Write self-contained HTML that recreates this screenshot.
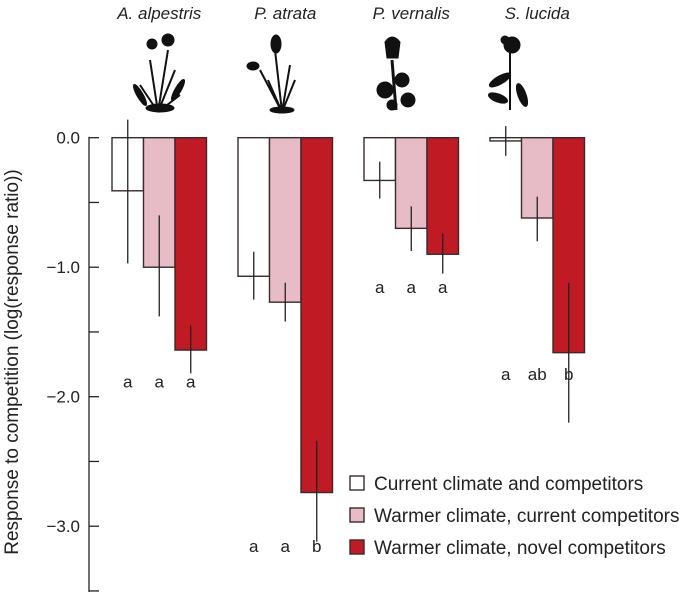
<!DOCTYPE html>
<html><head><meta charset="utf-8"><style>
body{margin:0;background:#fff}
svg{display:block;font-family:"Liberation Sans",Arial,sans-serif}
</style></head><body>
<svg id="chart" width="685" height="593" viewBox="0 0 685 593">
<g id="plants" fill="#111" stroke="#111">
  <g>
    <path d="M158 112 L150 60 M158 112 L168 50 M158 112 L175 70 M158 112 L140 85 M158 112 L180 95" stroke-width="2" fill="none"/>
    <circle cx="152" cy="44" r="5"/><circle cx="168" cy="40" r="6"/>
    <ellipse cx="140" cy="95" rx="3" ry="12" transform="rotate(-30 140 95)"/>
    <ellipse cx="178" cy="90" rx="3" ry="12" transform="rotate(30 178 90)"/>
    <ellipse cx="160" cy="108" rx="14" ry="4"/>
  </g>
  <g>
    <path d="M282 112 L275 50 M282 112 L260 70 M282 112 L290 65 M282 112 L268 80 M282 112 L295 80" stroke-width="2" fill="none"/>
    <ellipse cx="276" cy="44" rx="5" ry="9"/><ellipse cx="253" cy="66" rx="6" ry="4"/>
    <ellipse cx="282" cy="110" rx="12" ry="3"/>
  </g>
  <g>
    <path d="M396 110 L392 60" stroke-width="3" fill="none"/>
    <path d="M385 42 Q392 32 400 42 L398 58 L387 58 Z"/>
    <circle cx="385" cy="90" r="8"/><circle cx="402" cy="80" r="7"/><circle cx="408" cy="100" r="7"/><circle cx="392" cy="105" r="5"/>
  </g>
  <g>
    <path d="M510 110 L510 45" stroke-width="2" fill="none"/>
    <circle cx="512" cy="45" r="8"/><circle cx="505" cy="40" r="4"/>
    <ellipse cx="500" cy="80" rx="12" ry="4" transform="rotate(-30 500 80)"/>
    <ellipse cx="522" cy="95" rx="4" ry="12" transform="rotate(-20 522 95)"/>
    <ellipse cx="498" cy="98" rx="10" ry="4" transform="rotate(20 498 98)"/>
  </g>
</g>
<g id="titles" font-style="italic" font-size="17" fill="#222" text-anchor="middle"></g>
<g id="axis"></g>
<g id="bars"></g>
<g id="letters" font-size="17" fill="#222" text-anchor="middle"></g>
<g id="legend" font-size="19" fill="#222"></g>
<text transform="translate(18,362) rotate(-90)" text-anchor="middle" font-size="19" fill="#222">Response to competition (log(response ratio))</text>
</svg>
<script>
const species = ["A. alpestris","P. atrata","P. vernalis","S. lucida"];
const treatments = ["Current climate and competitors","Warmer climate, current competitors","Warmer climate, novel competitors"];
const colors = ["#ffffff","#e8bcc6","#c01a24"];
const meanCurrent = [-0.41,-1.07,-0.33,-0.025];
const meanWarmCur = [-1.0,-1.27,-0.70,-0.62];
const meanWarmNovel = [-1.64,-2.74,-0.90,-1.66];
const errLowCurrent = [-0.97,-1.25,-0.47,-0.14];
const errHighCurrent = [0.14,-0.88,-0.185,0.09];
const errLowWarmCur = [-1.38,-1.42,-0.875,-0.80];
const errHighWarmCur = [-0.60,-1.12,-0.53,-0.455];
const errLowWarmNovel = [-1.82,-3.12,-1.05,-2.20];
const errHighWarmNovel = [-1.45,-2.34,-0.74,-1.12];
const sigLetters = [["a","a","a"],["a","a","b"],["a","a","a"],["a","ab","b"]];
const letterY = [-1.93,-3.2,-1.2,-1.87];
const yTicks = [0,-0.5,-1,-1.5,-2,-2.5,-3,-3.5];
const yTickLabels = ["0.0","","−1.0","","−2.0","","−3.0",""];

const NS="http://www.w3.org/2000/svg";
function Y(v){ return 137.7 - v*129.5; }
function X(g,t){ return 112 + g*126 + t*31.5; }
const BW = 31.5;
function mk(tag,attrs,parent){const e=document.createElementNS(NS,tag);for(const k in attrs)e.setAttribute(k,attrs[k]);parent.appendChild(e);return e;}

const titles=document.getElementById('titles');
species.forEach((s,g)=>{
  const t=mk('text',{x:X(g,1.5),y:19},titles);
  
  
  t.textContent=s;
});

const axis=document.getElementById('axis');
const al=mk('line',{x1:89,y1:Y(0)-1,x2:89,y2:592,stroke:'#222','stroke-width':1.3},axis);


yTicks.forEach((v,i)=>{
  const tk=mk('line',{x1:89,x2:99,y1:Y(v),y2:Y(v),stroke:'#222','stroke-width':1.3},axis);
  
  
  if(yTickLabels[i]){
    const tl=mk('text',{x:80,y:Y(v)+6,'text-anchor':'end','font-size':17,fill:'#222'},axis);
    
    
    tl.textContent=yTickLabels[i];
  }
});

const means=[meanCurrent,meanWarmCur,meanWarmNovel];
const lows=[errLowCurrent,errLowWarmCur,errLowWarmNovel];
const highs=[errHighCurrent,errHighWarmCur,errHighWarmNovel];
const bars=document.getElementById('bars');
const letters=document.getElementById('letters');
species.forEach((s,g)=>{
  for(let t=0;t<3;t++){
    const v=means[t][g];
    const r=mk('rect',{x:X(g,t),y:Y(0),width:BW,height:Y(v)-Y(0),fill:colors[t],stroke:'#3a2a2a','stroke-width':1.4},bars);
    
    
    const cx=X(g,t)+BW/2;
    const e=mk('line',{x1:cx,x2:cx,y1:Y(highs[t][g]),y2:Y(lows[t][g]),stroke:'#222','stroke-width':1.3},bars);
    
    
    const l=mk('text',{x:cx,y:Y(letterY[g])},letters);
    
    
    l.textContent=sigLetters[g][t];
  }
});

const legend=document.getElementById('legend');
treatments.forEach((n,i)=>{
  const cy=483+i*32;
  const sq=mk('rect',{x:350,y:cy-7,width:14,height:14,fill:colors[i],stroke:'#3a2a2a','stroke-width':1.4},legend);
  
  
  const tx=mk('text',{x:374,y:cy+7},legend);
  
  
  tx.textContent=n;
});
</script>
</body></html>
